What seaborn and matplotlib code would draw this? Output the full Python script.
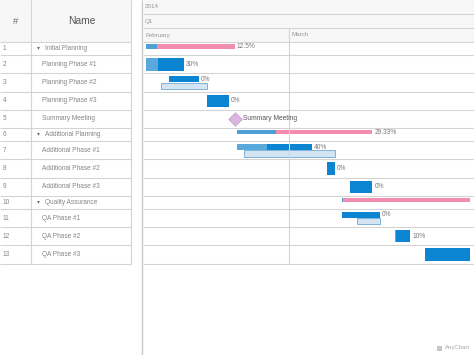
import matplotlib
matplotlib.use("Agg")
import matplotlib.pyplot as plt
import matplotlib.dates as mdates
import pandas as pd
import seaborn as sns
from matplotlib.patches import Rectangle

# ---- chart data ----
row_numbers = list(range(1, 14))
task_names = [
    "Initial Planning", "Planning Phase #1", "Planning Phase #2", "Planning Phase #3",
    "Summary Meeting", "Additional Planning", "Additional Phase #1", "Additional Phase #2",
    "Additional Phase #3", "Quality Assurance", "QA Phase #1", "QA Phase #2", "QA Phase #3",
]
row_kinds = [
    "summary", "task", "task", "task", "milestone", "summary", "task", "task",
    "task", "summary", "task", "task", "task",
]
actual_start = [
    "2014-02-10", "2014-02-10", "2014-02-13", "2014-02-18", "2014-02-21 18:00",
    "2014-02-22", "2014-02-22", "2014-03-06", "2014-03-09", "2014-03-08",
    "2014-03-08", "2014-03-15", "2014-03-19",
]
actual_end = [
    "2014-02-21 18:00", "2014-02-15", "2014-02-17", "2014-02-21", "2014-02-21 18:00",
    "2014-03-12", "2014-03-04", "2014-03-07", "2014-03-12", "2014-03-25",
    "2014-03-13", "2014-03-17", "2014-03-25",
]
baseline_start = [None, None, "2014-02-12", None, None, None, "2014-02-23", None, None, None, "2014-03-10", None, None]
baseline_end = [None, None, "2014-02-18", None, None, None, "2014-03-07", None, None, None, "2014-03-13", None, None]
progress = [12.5, 30, 0, 0, None, 29.33, 40, 0, 0, 0, 0, 10, 0]

header_year = "2014"
header_quarter = "Q1"
header_months = ["2014-02-01", "2014-03-01"]
view_range = ["2014-02-09 13:40", "2014-03-25 12:00"]

# ---- style ----
W, H = 474, 355
GRID_RIGHT, NUM_COL, SPLIT_X, TL_LEFT = 131, 30.7, 142, 143
HEADER_H = 42
ROW_H = {"summary": 13.2, "task": 18.2, "milestone": 18.2}
LINE = "#D4D4D4"
HEAD_BG = "#F7F7F7"
TXT = "#858585"
BAR = "#0B85D1"
PROG = "#5AA9DC"
SUM_BAR = "#F28DB0"
SUM_PROG = "#4E9FD6"
BASE_FILL = "#D3E5F3"
BASE_EDGE = "#6FA7D4"
MS_FILL = "#DDB6E0"
MS_EDGE = "#C89ED0"

sns.set_theme(style="white")
plt.rcParams["font.family"] = ["Liberation Sans", "DejaVu Sans"]


def to_dates(values):
    return pd.to_datetime(pd.Series(values, dtype="object"), format="mixed")


df = pd.DataFrame({
    "num": row_numbers, "name": task_names, "kind": row_kinds,
    "start": to_dates(actual_start), "end": to_dates(actual_end),
    "bstart": to_dates(baseline_start), "bend": to_dates(baseline_end),
    "progress": progress,
})
df["height"] = df["kind"].map(ROW_H)
df["top"] = HEADER_H + df["height"].cumsum() - df["height"]
df["bottom"] = df["top"] + df["height"]
df["s"] = mdates.date2num(df["start"])
df["e"] = mdates.date2num(df["end"])
df["bs"] = mdates.date2num(df["bstart"])
df["be"] = mdates.date2num(df["bend"])
grid_bottom = df["bottom"].iloc[-1]

fig = plt.figure(figsize=(W / 100, H / 100), dpi=100)
fig.patch.set_facecolor("white")

# ---- data grid (pixel coordinates) ----
bg = fig.add_axes([0, 0, 1, 1])
bg.set_xlim(0, W)
bg.set_ylim(H, 0)
bg.axis("off")
bg.add_patch(Rectangle((0, 0), GRID_RIGHT, HEADER_H, fc=HEAD_BG, ec="none"))
bg.vlines([NUM_COL, GRID_RIGHT], 0, grid_bottom, color=LINE, lw=0.8)
bg.vlines(SPLIT_X, 0, H, color="#C8C8C8", lw=1.0)
bg.hlines([HEADER_H] + list(df["bottom"]), 0, GRID_RIGHT, color=LINE, lw=0.8)
bg.text(15.5, 21, "#", ha="center", va="center", fontsize=6.8, color="#6b6b6b")
bg.text(81.5, 21, "Name", ha="center", va="center", fontsize=7.4, color="#555555")
for _, r in df.iterrows():
    yc = (r["top"] + r["bottom"]) / 2
    bg.text(3, yc, str(r["num"]), ha="left", va="center", fontsize=4.7, color=TXT)
    if r["kind"] == "summary":
        bg.text(38, yc - 0.8, "\u25be", ha="center", va="center", fontsize=4.2, color="#707070",
                family=["DejaVu Sans"])
        bg.text(45, yc, r["name"], ha="left", va="center", fontsize=4.7, color=TXT)
    else:
        bg.text(42, yc, r["name"], ha="left", va="center", fontsize=4.7, color=TXT)
bg.add_patch(Rectangle((437.5, 345.5), 4, 4, fc="#c8c8c8", ec="#a8a8a8", lw=0.4))
bg.text(470, 348, "AnyChart", ha="right", va="center", fontsize=4.3, color="#a8a8a8")

# ---- timeline ----
ax = fig.add_axes([TL_LEFT / W, 0, (W - TL_LEFT) / W, 1])
ax.patch.set_alpha(0)
x0, x1 = mdates.date2num(to_dates(view_range))
ax.set_xlim(x0, x1)
ax.set_ylim(H, 0)
ax.axis("off")

ax.axhspan(0, HEADER_H, color=HEAD_BG, lw=0)
ax.hlines([14, 28, HEADER_H] + list(df["bottom"]), x0, x1, color=LINE, lw=0.8)
month_dates = to_dates(header_months)
month_nums = mdates.date2num(month_dates)
ax.vlines([m for m in month_nums if m > x0], 28, grid_bottom, color=LINE, lw=0.8)

hdr = dict(textcoords="offset points", xytext=(1.5, 0), ha="left", va="center",
           fontsize=4.5, color="#959595")
ax.annotate(header_year, (x0, 7), **hdr)
ax.annotate(header_quarter, (x0, 21), **hdr)
for m, lab in zip(month_nums, month_dates.dt.strftime("%B")):
    ax.annotate(lab, (max(m, x0), 35), **hdr)

lbl = dict(textcoords="offset points", xytext=(1.5, 0), ha="left", va="center",
           fontsize=4.8, color="#7a7a7a")
ms_rows = df[df["kind"] == "milestone"]
for _, r in df.iterrows():
    top, h = r["top"], r["height"]
    dur = r["e"] - r["s"]
    if r["kind"] == "summary":
        y, bh = top + 2.3 + 2.1, 4.2
        ax.barh(y, dur, left=r["s"], height=bh, color=SUM_BAR, lw=0)
        ax.barh(y, max(dur * r["progress"] / 100, 0.12), left=r["s"], height=bh, color=SUM_PROG, lw=0)
        ylab = y
    elif r["kind"] == "task":
        band_top, band_h = top + 2.9, 12.4
        if pd.notna(r["bs"]):
            ya, ha_ = band_top + band_h / 4, band_h / 2
            ax.barh(band_top + 3 * band_h / 4, r["be"] - r["bs"], left=r["bs"], height=band_h / 2,
                    color=BASE_FILL, edgecolor=BASE_EDGE, lw=0.6)
        else:
            ya, ha_ = band_top + band_h / 2, band_h
        ax.barh(ya, dur, left=r["s"], height=ha_, color=BAR, lw=0)
        if r["progress"] > 0:
            ax.barh(ya, dur * r["progress"] / 100, left=r["s"], height=ha_, color=PROG, lw=0)
        ylab = ya
    else:
        continue
    if r["e"] + 3 <= x1:
        ax.annotate(f"{r['progress']:g}%", (r["e"], ylab), **lbl)

ms = pd.DataFrame({"x": ms_rows["s"], "y": (ms_rows["top"] + ms_rows["bottom"]) / 2})
sns.scatterplot(data=ms, x="x", y="y", marker="D", s=46, color=MS_FILL,
                edgecolor=MS_EDGE, linewidth=0.6, ax=ax, zorder=5, legend=False)
for _, r in ms.iterrows():
    ax.annotate(ms_rows["name"].iloc[0], (r["x"], r["y"]), textcoords="offset points",
                xytext=(6, 0), ha="left", va="center", fontsize=4.8, color="#555555")
ax.set_xlim(x0, x1)
ax.set_ylim(H, 0)
ax.axis("off")

fig.savefig("out.png", dpi=100)
